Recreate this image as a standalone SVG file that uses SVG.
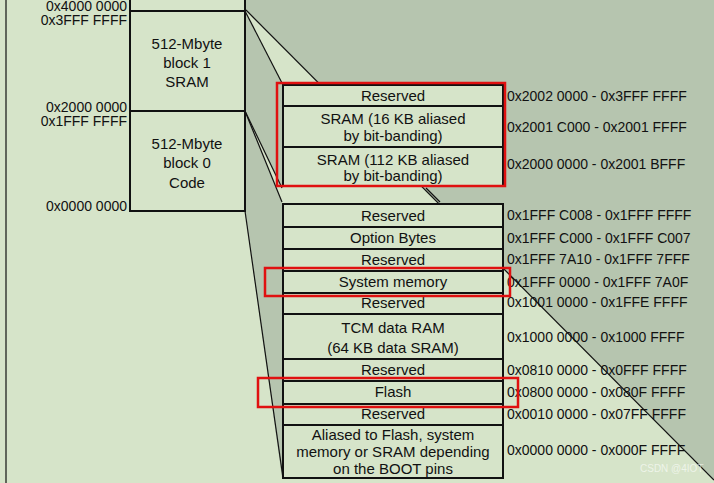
<svg xmlns="http://www.w3.org/2000/svg" width="714" height="483" viewBox="0 0 714 483">
<style>
.b{fill:#d6e4c9;stroke:#111;stroke-width:2}
.t{font-family:"Liberation Sans",Arial,sans-serif;font-size:15px;fill:#111;text-anchor:middle}
.a{font-family:"Liberation Sans",Arial,sans-serif;font-size:14px;fill:#111}
.l{font-family:"Liberation Sans",Arial,sans-serif;font-size:14px;fill:#111;text-anchor:end}
.ln{stroke:#111;stroke-width:1.2;fill:none}
.r{fill:none;stroke:#e01010;stroke-width:2.5}
</style>
<rect width="714" height="483" fill="#d6e4c9"/>
<polygon points="246,0 714,0 714,480 246,10" fill="#b6c5af"/>
<polygon points="245,11 282,83 282,188 245,111" fill="#b6c5af"/>
<polygon points="245,111 282,202 282,478 245,211" fill="#b6c5af"/>
<g id="connectors">
<line class="ln" x1="6" y1="0" x2="6" y2="483"/>
<line class="ln" x1="246" y1="10" x2="714" y2="480"/>
<line class="ln" x1="245" y1="11" x2="282" y2="83"/>
<line class="ln" x1="245" y1="111" x2="282" y2="202"/>
<line class="ln" x1="245" y1="111" x2="282" y2="188"/>
<line class="ln" x1="245" y1="211" x2="283" y2="478"/>
<line class="ln" x1="426" y1="188" x2="440" y2="202"/>
</g>
<g id="top"><rect class="b" x="130" y="-5" width="115" height="16"/></g>
<g id="block1"><rect class="b" x="130" y="11" width="115" height="100"/>
<text class="t" x="187" y="49">512-Mbyte</text><text class="t" x="187" y="68">block 1</text><text class="t" x="187" y="87">SRAM</text></g>
<g id="block0"><rect class="b" x="130" y="111" width="115" height="100"/>
<text class="t" x="187" y="149">512-Mbyte</text><text class="t" x="187" y="168">block 0</text><text class="t" x="187" y="188">Code</text></g>
<g id="leftlabels">
<text class="l" x="127" y="11">0x4000 0000</text><text class="l" x="127" y="25">0x3FFF FFFF</text>
<text class="l" x="127" y="112">0x2000 0000</text><text class="l" x="127" y="126">0x1FFF FFFF</text>
<text class="l" x="127" y="211">0x0000 0000</text></g>
<g id="sram">
<rect class="b" x="283" y="85" width="220" height="21"/><text class="t" x="393" y="101">Reserved</text>
<rect class="b" x="283" y="106" width="220" height="41"/><text class="t" x="393" y="124">SRAM (16 KB aliased</text><text class="t" x="393" y="141">by bit-banding)</text>
<rect class="b" x="283" y="147" width="220" height="39"/><text class="t" x="393" y="165">SRAM (112 KB aliased</text><text class="t" x="393" y="181">by bit-banding)</text>
<text class="a" x="507" y="101">0x2002 0000 - 0x3FFF FFFF</text>
<text class="a" x="507" y="132">0x2001 C000 - 0x2001 FFFF</text>
<text class="a" x="507" y="169">0x2000 0000 - 0x2001 BFFF</text>
</g>
<g id="code">
<rect class="b" x="283" y="204" width="220" height="23"/><text class="t" x="393" y="221">Reserved</text>
<rect class="b" x="283" y="227" width="220" height="22"/><text class="t" x="393" y="243">Option Bytes</text>
<rect class="b" x="283" y="249" width="220" height="22"/><text class="t" x="393" y="265">Reserved</text>
<rect class="b" x="283" y="271" width="220" height="22"/><text class="t" x="393" y="287">System memory</text>
<rect class="b" x="283" y="293" width="220" height="21"/><text class="t" x="393" y="308">Reserved</text>
<rect class="b" x="283" y="314" width="220" height="45"/><text class="t" x="393" y="333">TCM data RAM</text><text class="t" x="393" y="353">(64 KB data SRAM)</text>
<rect class="b" x="283" y="359" width="220" height="22"/><text class="t" x="393" y="375">Reserved</text>
<rect class="b" x="283" y="381" width="220" height="23"/><text class="t" x="393" y="397">Flash</text>
<rect class="b" x="283" y="404" width="220" height="21"/><text class="t" x="393" y="419">Reserved</text>
<rect class="b" x="283" y="425" width="220" height="53"/><text class="t" x="393" y="440">Aliased to Flash, system</text><text class="t" x="393" y="457">memory or SRAM depending</text><text class="t" x="393" y="474">on the BOOT pins</text>
<text class="a" x="507" y="220">0x1FFF C008 - 0x1FFF FFFF</text>
<text class="a" x="507" y="243">0x1FFF C000 - 0x1FFF C007</text>
<text class="a" x="507" y="264">0x1FFF 7A10 - 0x1FFF 7FFF</text>
<text class="a" x="507" y="287">0x1FFF 0000 - 0x1FFF 7A0F</text>
<text class="a" x="507" y="307">0x1001 0000 - 0x1FFE FFFF</text>
<text class="a" x="507" y="342">0x1000 0000 - 0x1000 FFFF</text>
<text class="a" x="507" y="375">0x0810 0000 - 0x0FFF FFFF</text>
<text class="a" x="507" y="397">0x0800 0000 - 0x080F FFFF</text>
<text class="a" x="507" y="419">0x0010 0000 - 0x07FF FFFF</text>
<text class="a" x="507" y="455">0x0000 0000 - 0x000F FFFF</text>
</g>
<g id="highlights">
<rect class="r" x="277" y="83" width="228" height="103"/>
<rect class="r" x="265" y="268" width="245" height="28"/>
<rect class="r" x="258" y="378" width="260" height="29"/>
</g>
<text x="640" y="472" font-family="Liberation Sans,Arial,sans-serif" font-size="10" fill="#ffffff" fill-opacity="0.6">CSDN @4IOT</text>
</svg>
